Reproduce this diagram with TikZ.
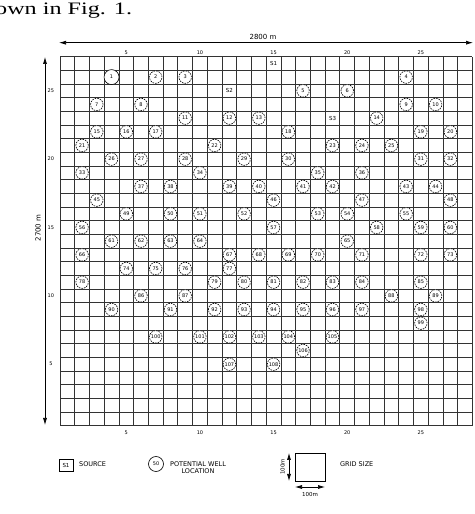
\documentclass[tikz,border=0pt]{standalone}
\usepackage{fontspec}
\setmainfont{DejaVu Sans}
\newfontfamily\bodyserif{Liberation Serif}
\usetikzlibrary{arrows.meta}

\tikzset{
  cellline/.style={line width=0.8pt, black!80},
  well/.style={circle, draw, line width=0.6pt, dash pattern=on 1.6pt off 1pt, fill=white,
    inner sep=0pt, minimum size=12.5pt, font=\fontsize{5}{6}\selectfont},
  firstwell/.style={well, solid, minimum size=15pt},
  tick/.style={font=\fontsize{5}{6}\selectfont, inner sep=0pt},
  dim/.style={{Latex[length=7pt,width=4pt]}-{Latex[length=7pt,width=4pt]}, line width=0.7pt},
  legend/.style={font=\fontsize{6.5}{7.5}\selectfont, inner sep=0pt},
}

\begin{document}
\begin{tikzpicture}[x=1pt,y=1pt]
  \useasboundingbox (0,0) rectangle (474,514);
  \node [anchor=base west, inner sep=0pt] (head) at (-5,499)
    {\bodyserif\fontsize{17.5}{18}\selectfont\scalebox{1.38}[1]{own in Fig. 1.}};
  % 28 x 27 cells of 100 m
  \begin{scope}[shift={(60pt,88.3pt)}, x=14.73pt, y=13.67pt]
    \draw [cellline, step=1] (0,0) grid (28,27);
    \foreach \c in {5,10,...,25} {
      \node [tick] (top\c) at (\c-0.5,27.27) {\c};
      \node [tick] (bot\c) at (\c-0.5,-0.53) {\c};
      \node [tick] (row\c) at (-0.62,\c-0.5) {\c};
    }
    \foreach \s/\c/\r in {1/15/27, 2/12/25, 3/19/23}
      \node [tick, font=\fontsize{5.5}{6}\selectfont] (s\s) at (\c-0.5,\r-0.5) {S\s};
    \node [firstwell] (w1) at (3.5,25.5) {1};
    \foreach \n/\c/\r in {2/7/26, 3/9/26, 4/24/26, 5/17/25, 6/20/25,
        7/3/24, 8/6/24, 9/24/24, 10/26/24, 11/9/23, 12/12/23, 13/14/23, 14/22/23,
        15/3/22, 16/5/22, 17/7/22, 18/16/22, 19/25/22, 20/27/22,
        21/2/21, 22/11/21, 23/19/21, 24/21/21, 25/23/21,
        26/4/20, 27/6/20, 28/9/20, 29/13/20, 30/16/20, 31/25/20, 32/27/20,
        33/2/19, 34/10/19, 35/18/19, 36/21/19,
        37/6/18, 38/8/18, 39/12/18, 40/14/18, 41/17/18, 42/19/18, 43/24/18, 44/26/18,
        45/3/17, 46/15/17, 47/21/17, 48/27/17,
        49/5/16, 50/8/16, 51/10/16, 52/13/16, 53/18/16, 54/20/16, 55/24/16,
        56/2/15, 57/15/15, 58/22/15, 59/25/15, 60/27/15,
        61/4/14, 62/6/14, 63/8/14, 64/10/14, 65/20/14,
        66/2/13, 67/12/13, 68/14/13, 69/16/13, 70/18/13, 71/21/13, 72/25/13, 73/27/13,
        74/5/12, 75/7/12, 76/9/12, 77/12/12,
        78/2/11, 79/11/11, 80/13/11, 81/15/11, 82/17/11, 83/19/11, 84/21/11, 85/25/11,
        86/6/10, 87/9/10, 88/23/10, 89/26/10,
        90/4/9, 91/8/9, 92/11/9, 93/13/9, 94/15/9, 95/17/9, 96/19/9, 97/21/9, 98/25/9,
        99/25/8, 100/7/7, 101/10/7, 102/12/7, 103/14/7, 104/16/7, 105/19/7,
        106/17/6, 107/12/5, 108/15/5}
      \node [well] (w\n) at (\c-0.5,\r-0.5) {\n};
  \end{scope}
  % overall dimensions
  \coordinate (ew) at (59,471.3);
  \coordinate (ee) at (473,471.3);
  \coordinate (nt) at (45,457);
  \coordinate (nb) at (45,89);
  \draw [dim] (ew) -- (ee);
  \draw [dim] (nt) -- (nb);
  \node [legend, font=\fontsize{7}{8}\selectfont] (wide) at (263,477.5) {2800 m};
  \node [legend, font=\fontsize{7}{8}\selectfont, rotate=90] (tall) at (38,286) {2700 m};
  % legend
  \node [draw, line width=0.8pt, minimum width=14pt, minimum height=11.5pt, inner sep=0pt,
    font=\fontsize{5.5}{6}\selectfont] (srckey) at (66,48.5) {S1};
  \node [legend, anchor=west] (srctext) at (79,50) {SOURCE};
  \node [well, solid, minimum size=15pt] (wellkey) at (156,50) {50};
  \node [legend, align=center] (welltext) at (198,46.5) {POTENTIAL WELL\\LOCATION};
  \node [draw, line width=0.8pt, minimum width=30pt, minimum height=28pt, inner sep=0pt] (cell) at (310,47) {};
  \coordinate (vt) at (289,61);
  \coordinate (vb) at (289,33);
  \coordinate (hl) at (295,27);
  \coordinate (hr) at (325,27);
  \draw [dim] (vt) -- (vb);
  \draw [dim] (hl) -- (hr);
  \node [tick, font=\fontsize{5.5}{6}\selectfont, rotate=90] (cellh) at (282.5,47) {100m};
  \node [tick, font=\fontsize{5.5}{6}\selectfont] (cellw) at (310,20) {100m};
  \node [legend, anchor=west] (celltext) at (340,50) {GRID SIZE};
\end{tikzpicture}
\end{document}
